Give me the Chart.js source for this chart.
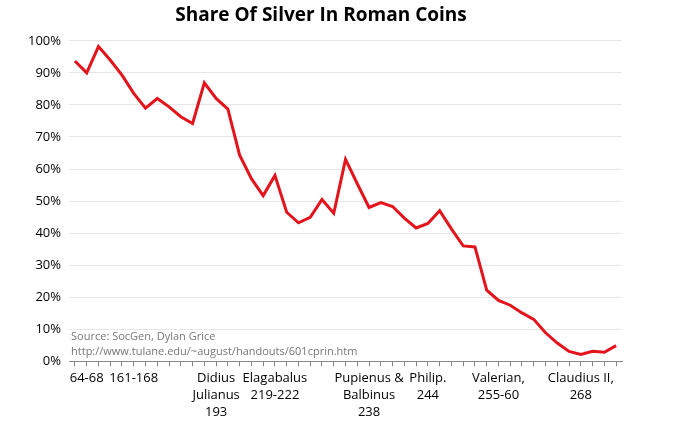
<!DOCTYPE html>
<html><head><script src="https://cdn.jsdelivr.net/npm/chart.js"></script>
<style>body{margin:0;background:#fff}#w{width:698px;height:431px}</style></head>
<body><div id="w"><canvas id="c"></canvas></div>
<script>
const values=[93.7,90,98.2,94,89.3,83.6,79,82,79.4,76.3,74.2,86.9,82,78.7,64.3,57,51.7,58,46.5,43.2,44.9,50.5,46.2,63,55.4,48,49.5,48.3,44.7,41.6,43,47,41.3,36,35.7,22.2,19,17.5,15.1,13.1,8.9,5.7,3.1,2.1,3.1,2.8,4.9];
const tickLabels={1:["64-68"],5:["161-168"],12:["Didius","Julianus","193"],17:["Elagabalus","219-222"],25:["Pupienus &","Balbinus","238"],30:["Philip.","244"],36:["Valerian,","255-60"],43:["Claudius II,","268"]};
const categories=values.map((v,i)=>tickLabels[i]||"");
const yTicks=[0,10,20,30,40,50,60,70,80,90,100];
const sourceLines=["Source: SocGen, Dylan Grice","http://www.tulane.edu/~august/handouts/601cprin.htm"];
const src={id:'src',afterDraw(ch){const c=ch.ctx,a=ch.chartArea;c.save();c.font='11px "Open Sans"';c.fillStyle='#777';
c.fillText(sourceLines[0],a.left+2,a.bottom-21);c.fillText(sourceLines[1],a.left+2,a.bottom-6);c.restore();}};
new Chart(document.getElementById('c'),{type:'line',
data:{labels:categories,datasets:[{data:values,borderColor:'#e3141b',borderWidth:3,pointRadius:0,tension:0}]},
options:{responsive:true,maintainAspectRatio:false,animation:false,
layout:{padding:{left:20,right:76,top:0,bottom:6}},
plugins:{legend:{display:false},tooltip:{enabled:false},
title:{display:true,text:'Share Of Silver In Roman Coins',color:'#000',font:{family:'"Open Sans"',size:19,weight:'bold'},padding:{top:4,bottom:14}}},
scales:{x:{offset:true,grid:{display:true,drawOnChartArea:false,color:'#888',tickLength:5,offset:false},border:{color:'#888'},
ticks:{autoSkip:false,maxRotation:0,color:'#000',font:{family:'"Open Sans"',size:13,lineHeight:1.3},padding:4}},
y:{min:0,max:100,afterBuildTicks(s){s.ticks=yTicks.map(v=>({value:v}));},grid:{color:'#e6e6e6',drawTicks:false},border:{display:false},
ticks:{color:'#000',font:{family:'"Open Sans"',size:13},padding:8,callback:v=>v+'%'}}}},
plugins:[src]});
</script></body></html>
